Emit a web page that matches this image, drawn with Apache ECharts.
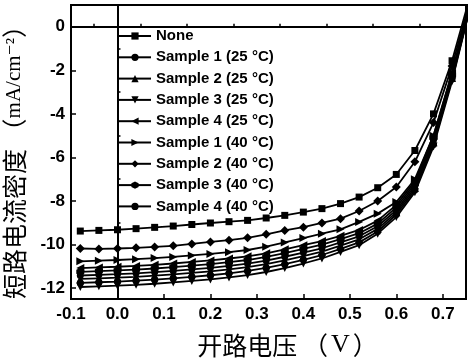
<!DOCTYPE html>
<html><head><meta charset="utf-8">
<script src="https://cdn.jsdelivr.net/npm/echarts@6/dist/echarts.min.js"></script>
<style>html,body{margin:0;padding:0;background:#fff}#c{width:474px;height:362px}</style>
</head><body><div id="c"></div>
<script>
const voltage = [-0.08,-0.04,0,0.04,0.08,0.12,0.16,0.2,0.24,0.28,0.32,0.36,0.4,0.44,0.48,0.52,0.56,0.6,0.64,0.68,0.72,0.76];
const seriesNames = ['None','Sample 1 (25 °C)','Sample 2 (25 °C)','Sample 3 (25 °C)','Sample 4 (25 °C)','Sample 1 (40 °C)','Sample 2 (40 °C)','Sample 3 (40 °C)','Sample 4 (40 °C)'];
const none     = [-9.38,-9.35,-9.32,-9.27,-9.21,-9.15,-9.08,-9.01,-8.95,-8.89,-8.78,-8.66,-8.51,-8.35,-8.12,-7.82,-7.39,-6.78,-5.68,-4.0,-1.56,1.5];
const s1_25    = [-11.42,-11.39,-11.36,-11.32,-11.27,-11.21,-11.14,-11.07,-10.98,-10.88,-10.74,-10.56,-10.37,-10.17,-9.9,-9.62,-9.16,-8.42,-7.3,-5.2,-2.3,1.05];
const s2_25    = [-11.58,-11.55,-11.52,-11.48,-11.43,-11.37,-11.3,-11.23,-11.14,-11.04,-10.9,-10.73,-10.53,-10.32,-10.05,-9.76,-9.28,-8.52,-7.4,-5.3,-2.35,1.0];
const s3_25    = [-11.95,-11.92,-11.89,-11.85,-11.8,-11.74,-11.67,-11.6,-11.51,-11.4,-11.26,-11.08,-10.87,-10.64,-10.34,-10.03,-9.5,-8.74,-7.6,-5.5,-2.5,1.0];
const s4_25    = [-11.08,-11.05,-11.02,-10.98,-10.93,-10.87,-10.8,-10.73,-10.64,-10.54,-10.4,-10.22,-10.03,-9.84,-9.6,-9.33,-8.9,-8.18,-7.1,-5.0,-2.15,1.1];
const s1_40    = [-10.77,-10.74,-10.71,-10.67,-10.62,-10.57,-10.5,-10.43,-10.35,-10.25,-10.1,-9.9,-9.7,-9.5,-9.3,-8.96,-8.58,-8.05,-7.0,-5.0,-2.1,1.2];
const s2_40    = [-10.18,-10.2,-10.18,-10.15,-10.11,-10.06,-9.97,-9.88,-9.8,-9.69,-9.53,-9.35,-9.2,-9.01,-8.81,-8.46,-8.0,-7.36,-6.2,-4.4,-1.8,1.3];
const s3_40    = [-11.25,-11.22,-11.19,-11.15,-11.1,-11.04,-10.97,-10.9,-10.81,-10.71,-10.57,-10.39,-10.2,-10.0,-9.75,-9.48,-9.04,-8.3,-7.2,-5.1,-2.2,1.1];
const s4_40    = [-11.76,-11.73,-11.7,-11.66,-11.61,-11.55,-11.48,-11.41,-11.32,-11.21,-11.07,-10.9,-10.7,-10.48,-10.2,-9.9,-9.4,-8.62,-7.5,-5.4,-2.4,1.0];
const xTickLabels = [-0.1,0,0.1,0.2,0.3,0.4,0.5,0.6,0.7];
const xMinorTicks = [-0.05,0.05,0.15,0.25,0.35,0.45,0.55,0.65];
const yTickLabels = [0,-2,-4,-6,-8,-10,-12];
const yMinorTicks = [-1,-3,-5,-7,-9,-11];

const hexPath = 'path://M0,-10 L8.66,-5 L8.66,5 L0,10 L-8.66,5 L-8.66,-5 Z';
const allData = [none, s1_25, s2_25, s3_25, s4_25, s1_40, s2_40, s3_40, s4_40];
const symbols = ['rect','circle','triangle','triangle','triangle','triangle','diamond',hexPath,'circle'];
const rotates = [0,0,0,180,90,-90,0,0,0];
const sizes = [7,7,8,8,8,8,9,8,7];

const series = allData.map((arr, i) => ({
  name: seriesNames[i],
  type: 'line',
  data: arr.map((v, k) => [voltage[k], v]),
  symbol: symbols[i],
  symbolRotate: rotates[i],
  symbolSize: sizes[i],
  showAllSymbol: true,
  clip: true,
  itemStyle: {color: '#000'},
  lineStyle: {color: '#000', width: 1.8},
  z: 3,
  markLine: i === 0 ? {
    silent: true, symbol: ['none','none'], label: {show: false},
    lineStyle: {color: '#000', width: 2, type: 'solid'},
    data: [{yAxis: 0}, {xAxis: 0}]
  } : undefined
}));

const axisFont = {fontFamily: 'Liberation Sans, Arial, sans-serif', fontWeight: 'bold', fontSize: 17, color: '#000'};
const chart = echarts.init(document.getElementById('c'));
chart.setOption({
  animation: false,
  backgroundColor: '#fff',
  grid: {left: 71, right: 8, top: 5, bottom: 63, outerBoundsMode: 'none', containLabel: false,
    show: true, borderColor: '#000', borderWidth: 2, backgroundColor: 'transparent'},
  legend: {
    orient: 'vertical', left: 118, top: 28, padding: 0,
    itemWidth: 32, itemHeight: 9, itemGap: 5.3,
    textStyle: {fontFamily: 'Liberation Sans, Arial, sans-serif', fontWeight: 'bold', fontSize: 15, color: '#000', lineHeight: 16},
    data: seriesNames
  },
  xAxis: [{
    type: 'value', min: -0.1, max: 0.75,
    axisLine: {show: true, onZero: false, lineStyle: {color: '#000', width: 2}},
    axisTick: {show: true, inside: true, length: 5, customValues: xTickLabels, lineStyle: {color: '#000', width: 1.5}},
    axisLabel: Object.assign({customValues: xTickLabels, margin: 7, formatter: v => v.toFixed(1)}, axisFont),
    splitLine: {show: false},
    name: '开路电压 （{v|V}）', nameLocation: 'middle', nameGap: 33,
    nameTextStyle: {fontFamily: 'Noto Sans CJK SC', fontSize: 25, color: '#000', padding: [0,0,0,38],
      rich: {v: {fontFamily: 'Liberation Serif, DejaVu Serif, serif', fontSize: 26, color: '#000', padding: [0,3,0,3]}}}
  }, {
    type: 'value', min: -0.1, max: 0.75, position: 'bottom',
    axisLine: {show: false},
    axisTick: {show: true, inside: true, length: 3, customValues: xMinorTicks, lineStyle: {color: '#000', width: 1.5}},
    axisLabel: {show: false}, splitLine: {show: false}
  }],
  yAxis: [{
    type: 'value', min: -12.5, max: 1,
    axisLine: {show: true, onZero: false, lineStyle: {color: '#000', width: 2}},
    axisTick: {show: true, inside: true, length: 5, customValues: yTickLabels, lineStyle: {color: '#000', width: 1.5}},
    axisLabel: Object.assign({customValues: yTickLabels, margin: 6}, axisFont),
    splitLine: {show: false},
    name: '短路电流密度 （{s|mA/cm⁻²}）', nameLocation: 'middle', nameRotate: 90, nameGap: 44,
    nameTextStyle: {fontFamily: 'Noto Sans CJK SC', fontSize: 25, color: '#000', padding: [0,8,0,0],
      rich: {s: {fontFamily: 'Liberation Serif, DejaVu Serif, serif', fontSize: 21, color: '#000'}}}
  }, {
    type: 'value', min: -12.5, max: 1, position: 'left',
    axisLine: {show: false},
    axisTick: {show: true, inside: true, length: 3, customValues: yMinorTicks, lineStyle: {color: '#000', width: 1.5}},
    axisLabel: {show: false}, splitLine: {show: false}
  }],
  series: series
});
</script></body></html>
